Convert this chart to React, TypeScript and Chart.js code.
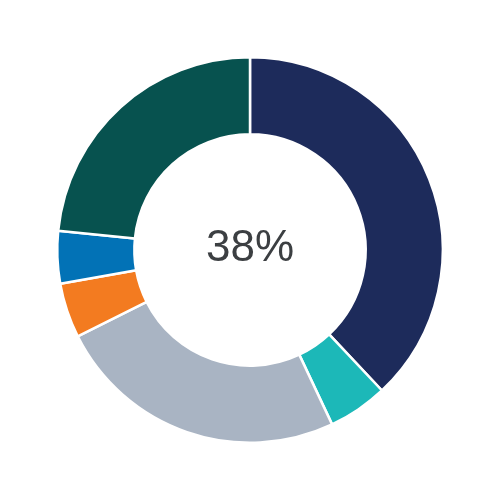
import { useEffect, useRef } from "react";
import { Chart, registerables } from "chart.js";

Chart.register(...registerables);

// Segments, clockwise from 12 o'clock
const segmentLabels = ["A", "B", "C", "D", "E", "F"];
const segmentValues = [38, 5, 24.6, 4.6, 4.4, 23.4];
const segmentColors = ["#1d2b5b", "#1cb8b8", "#a9b4c3", "#f37b20", "#0272b6", "#07524f"];
const centerLabel = "38%";

const App = () => {
  const canvasRef = useRef<HTMLCanvasElement>(null);

  useEffect(() => {
    if (!canvasRef.current) return;

    // draws the big number in the hole
    const centerText = {
      id: "centerText",
      afterDraw(chart: Chart) {
        const { ctx, chartArea } = chart;
        const cx = (chartArea.left + chartArea.right) / 2;
        const cy = (chartArea.top + chartArea.bottom) / 2;
        ctx.save();
        ctx.font = "44px 'Liberation Sans', Arial, sans-serif";
        ctx.fillStyle = "#3c3f42";
        ctx.textAlign = "center";
        ctx.textBaseline = "middle";
        ctx.fillText(centerLabel, cx, cy - 1);
        ctx.restore();
      },
    };

    const chart = new Chart(canvasRef.current, {
      type: "doughnut",
      data: {
        labels: segmentLabels,
        datasets: [
          {
            data: segmentValues,
            backgroundColor: segmentColors,
            borderColor: "#ffffff",
            borderWidth: 2.5,
          },
        ],
      },
      options: {
        responsive: false,
        animation: false,
        cutout: "60%",
        layout: { padding: 56 },
        plugins: {
          legend: { display: false },
          tooltip: { enabled: false },
        },
      },
      plugins: [centerText],
    });

    return () => {
      chart.destroy();
    };
  }, []);

  return (
    <div style={{ position: "absolute", left: 0, top: 0, width: 500, height: 500, background: "#fff" }}>
      <canvas ref={canvasRef} width={500} height={500}></canvas>
    </div>
  );
};

export default App;
